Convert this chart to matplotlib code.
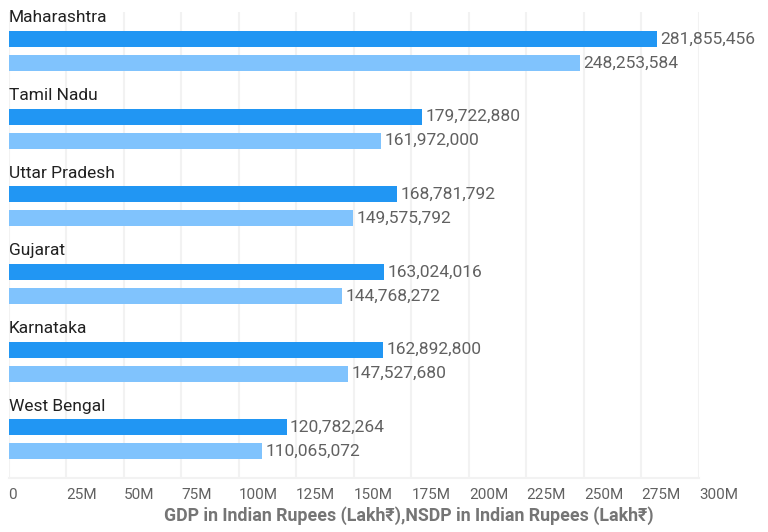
import matplotlib
matplotlib.use("Agg")
import matplotlib.pyplot as plt
import numpy as np

plt.rcParams["font.family"] = ["Roboto", "DejaVu Sans"]

# ── Data ───────────────────────────────────────────────────
states = ["Maharashtra", "Tamil Nadu", "Uttar Pradesh", "Gujarat", "Karnataka", "West Bengal"]
gdp  = [281855456, 179722880, 168781792, 163024016, 162892800, 120782264]
nsdp = [248253584, 161972000, 149575792, 144768272, 147527680, 110065072]
tick_vals   = [0, 25e6, 50e6, 75e6, 100e6, 125e6, 150e6, 175e6, 200e6, 225e6, 250e6, 275e6, 300e6]
tick_labels = ["0", "25M", "50M", "75M", "100M", "125M", "150M", "175M", "200M",
               "225M", "250M", "275M", "300M"]

C_GDP  = "#2196F3"
C_NSDP = "#80C3FD"
C_GRID = "#F2F2F2"
C_TEXT = "#212121"
C_VAL  = "#616161"

W, H = 768, 532
fig = plt.figure(figsize=(W / 100, H / 100), dpi=100)
ax = fig.add_axes([8.5 / W, (H - 478) / H, (699 - 8.5) / W, (478 - 12) / H])

y = np.arange(len(states))
bh = 0.206
ax.barh(y + 0.348, gdp, height=bh, color=C_GDP, zorder=2)
ax.barh(y + 0.657, nsdp, height=bh, color=C_NSDP, zorder=2)

for i, name in enumerate(states):
    ax.text(1e5, i + 0.077, name, ha="left", va="center",
            fontsize=12.5, color=C_TEXT, clip_on=False)
    ax.text(gdp[i] + 1.5e6, i + 0.348, f"{gdp[i]:,}", ha="left", va="center",
            fontsize=12.5, color=C_VAL, clip_on=False)
    ax.text(nsdp[i] + 1.5e6, i + 0.657, f"{nsdp[i]:,}", ha="left", va="center",
            fontsize=12.5, color=C_VAL, clip_on=False)

ax.set_xlim(0, 300e6)
ax.set_ylim(len(states), 0)
ax.set_yticks([])
ax.set_xticks(tick_vals)
ax.set_xticklabels(tick_labels, ha="left", fontsize=11, color=C_VAL)
ax.tick_params(axis="x", length=0, pad=7)
ax.grid(True, axis="x", color=C_GRID, lw=1.5, zorder=0)
for s in ["top", "left", "right"]:
    ax.spines[s].set_visible(False)
ax.spines["bottom"].set_color(C_GRID)
ax.spines["bottom"].set_linewidth(1.5)

fig.text(409 / W, 1 - 516 / H,
         "GDP in Indian Rupees (Lakh\u20b9),NSDP in Indian Rupees (Lakh\u20b9)",
         ha="center", va="center", fontsize=12.8, fontweight="bold", color="#757575")

fig.savefig("out.png", dpi=100, facecolor="white")
